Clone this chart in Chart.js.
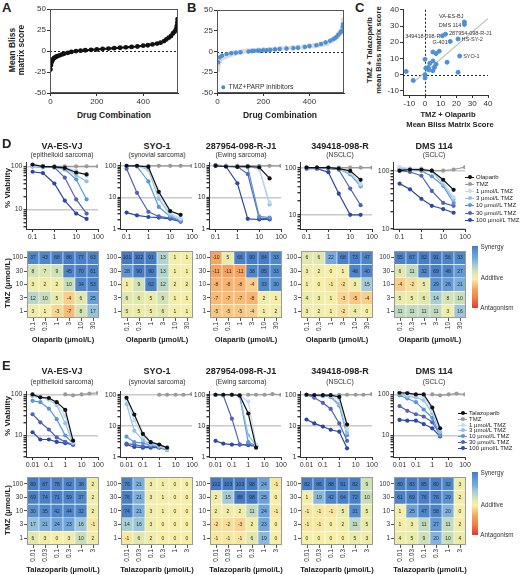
<!DOCTYPE html>
<html>
<head>
<meta charset="utf-8">
<script src="https://cdn.jsdelivr.net/npm/chart.js@4.4.1/dist/chart.umd.min.js"></script>
<style>
  body { margin: 0; background: #fff; }
  #fig { position: relative; width: 520px; height: 575px; overflow: hidden;
         font-family: "Liberation Sans", Arial, Helvetica, sans-serif; color: #222; }
  #fig canvas { position: absolute; }
  .t { position: absolute; white-space: nowrap; line-height: 1; }
  .letter { font-weight: bold; font-size: 13px; }
  .lg { position: absolute; font-size: 6px; white-space: nowrap; line-height: 1; }
  .lg i { position: absolute; height: 0; border-top: 1px solid; width: 9px; top: 0; }
  .lg b { position: absolute; width: 4px; height: 4px; border-radius: 50%; top: -2px; }
</style>
</head>
<body>
<div id="fig"></div>
<script>
/* ---------- data ---------- */

// A: every drug combination, ranked (rank, mean Bliss matrix score)
const aRank  = [0, 2, 4, 6, 8, 10, 15, 20, 25, 30, 40, 50, 60, 75, 90, 110, 130, 150, 175, 200, 225, 250, 275, 300,
                325, 350, 375, 400, 420, 440, 460, 475, 490, 500, 510, 520, 528, 535, 540, 543, 545, 547, 548];
const aScore = [-22, -17, -14, -12, -11, -10, -8.5, -7.5, -6.5, -6, -5, -4, -3, -2, -1, 0, 0.5, 1, 1.5, 2, 2.5, 3, 3.5, 4,
                4.5, 5, 5.5, 6.5, 7, 8, 9, 10, 12, 14, 16, 18, 21, 23, 25, 27, 30, 34, 38];

// B: TMZ + PARP inhibitor combinations within the ranking
const bRank  = [3, 10, 20, 40, 60, 80, 100, 135, 150, 160, 175, 185, 200, 215, 230, 250, 270, 300, 330, 350,
                380, 400, 430, 450, 470, 490, 505, 515, 525, 535, 540, 545, 547];
const bScore = [-13, -7, -5, -3, -2, -1.5, -1, 0, 0.5, 0.8, 1, 1, 1.5, 1.5, 2, 2.5, 3, 3.5, 4, 4.5,
                5.5, 6.5, 7.5, 9, 11, 13, 15, 17, 20, 23, 25, 30, 33];

// C: mean Bliss score per cell line, TMZ+olaparib (x) vs TMZ+talazoparib (y)
const cOlaparib    = [-12, -7.5, 0, 0.5, 0, 0, 2, 2.5, 3, 5, 7, 9, 5, 6, 7, 5, 14, 11, 13, 16, 21, 21, 22, 25, 25];
const cTalazoparib = [2, -3.5, 9.5, 4, 0, -2, 4.5, 3, 7, 14, 13, 14.5, 8.5, 4.5, 6.5, 2.5, 7.7, 24, 25, 20.5, 22, 1.5, 11.5, 32.5, 31];
const cLabels = ['', '', '', '', '', '', '', '', '', '', '', '', '', '', '', '', '',
                 '349418-098-R', '287954-098-R-J1', 'G-401', 'HS-SY-2', '', 'SYO-1', 'VA-ES-BJ', 'DMS 114'];
const cFit = { slope: 0.83, intercept: 1.4, from: -7.5, to: 40 };

// D / E: cell lines and doses
const cellLines = ['VA-ES-VJ', 'SYO-1', '287954-098-R-J1', '349418-098-R', 'DMS 114'];
const subtypes  = ['(epithelioid sarcoma)', '(synovial sarcoma)', '(Ewing sarcoma)', '(NSCLC)', '(SCLC)'];
const olaparibDoses    = [0.1, 0.3, 1, 3, 10, 30];
const talazoparibDoses = [0.01, 0.03, 0.1, 0.3, 1, 3];
const olaparibLabels    = ['0.1', '0.3', '1', '3', '10', '30'];
const talazoparibLabels = ['0.01', '0.03', '0.1', '0.3', '1', '3'];
const tmzDoses = [1, 3, 10, 30, 100];
const tmzRows  = ['100', '30', '10', '3', '1'];
const comboNames = ['1 µmol/L TMZ', '3 µmol/L TMZ', '10 µmol/L TMZ', '30 µmol/L TMZ', '100 µmol/L TMZ'];

// % viability: row 0 = PARP inhibitor alone, rows 1-5 = + 1, 3, 10, 30, 100 µmol/L TMZ
const olaViabVAESVJ = [[110, 100, 97, 92, 72, 65], [105, 100, 100, 95, 80, 60], [100, 100, 95, 90, 62, 45],
                       [100, 95, 95, 85, 50, 17], [100, 100, 95, 55, 17, 8], [75, 70, 40, 16, 8, 6]];
const olaViabSYO1   = [[100, 100, 92, 15, 3.7, 2.8], [100, 100, 88, 12, 3.2, 2.2], [100, 100, 75, 9, 2.8, 2],
                       [95, 95, 32, 5, 2.5, 1.8], [80, 14, 3.5, 2.5, 2.2, 1.8], [3.3, 2.7, 2.4, 2.3, 2.1, 1.7]];
const olaViab287954 = [[100, 95, 92, 95, 90, 40], [100, 100, 100, 95, 85, 7], [100, 100, 100, 95, 80, 6],
                       [100, 100, 100, 90, 2.5, 2.3], [105, 100, 95, 55, 2.2, 2.1], [100, 95, 28, 2.1, 2, 2]];
const olaViab349418 = [[100, 100, 100, 95, 85, 55], [100, 100, 100, 95, 80, 45], [100, 100, 98, 93, 75, 42],
                       [100, 100, 97, 92, 72, 40], [100, 100, 95, 90, 36, 16], [95, 95, 80, 28, 10, 10]];
const olaViabDMS114 = [[100, 105, 105, 100, 70, 47], [115, 110, 110, 100, 65, 35], [110, 108, 105, 98, 58, 32],
                       [105, 105, 100, 80, 55, 28], [100, 95, 82, 45, 28, 25], [60, 48, 33, 25, 22, 19]];
const talViabVAESVJ = [[100, 85, 82, 65, 42, 7.5], [95, 88, 80, 60, 30, 7], [90, 85, 75, 55, 20, 6.5],
                       [70, 65, 45, 25, 10, 6.5], [33, 21, 14, 9, 7, 6], [12, 8, 8, 7, 6.5, 6]];
const talViabSYO1   = [[80, 23, 5.5, 3, 2.5, 2], [70, 15, 4.5, 3, 2.4, 1.8], [50, 7, 3.5, 2.6, 2.2, 1.7],
                       [4.5, 3, 2.8, 2.4, 2.1, 1.7], [2.7, 2.5, 2.2, 2.2, 2.1, 1.8], [2.5, 2.1, 2, 2, 2, 1.7]];
const talViab287954 = [[100, 100, 100, 95, 25, 2], [100, 100, 100, 95, 60, 2.5], [100, 100, 100, 95, 5, 2.4],
                       [100, 100, 100, 90, 3, 2.3], [100, 95, 17, 2.5, 2.5, 2.3], [3.3, 2.7, 2.5, 2.5, 2.4, 2.2]];
const talViab349418 = [[100, 97, 97, 97, 85, 11], [100, 100, 95, 95, 70, 8], [100, 95, 95, 90, 50, 6],
                       [100, 95, 90, 85, 45, 5], [100, 80, 55, 35, 12, 3.3], [16, 12, 9.5, 7.5, 6.5, 1.9]];
const talViabDMS114 = [[110, 108, 100, 100, 48, 15], [110, 100, 95, 88, 40, 14], [105, 90, 85, 72, 35, 12],
                       [95, 80, 65, 43, 27, 10], [52, 40, 33, 29, 21, 10.5], [24, 23, 23, 19, 15, 9.5]];

// TMZ alone (% viability at 1, 3, 10, 30, 100 µmol/L)
const olaTmzAlone = [[100, 100, 100, 100, 100], [100, 100, 100, 100, 100], [100, 100, 100, 100, 100],
                     [100, 100, 100, 100, 100], [100, 100, 100, 105, 115]];
const talTmzAlone = [[100, 95, 100, 105, 110], [100, 100, 100, 100, 105], [100, 100, 100, 105, 100],
                     [100, 100, 100, 100, 105], [100, 95, 100, 105, 100]];

// Bliss synergy matrices, rows TMZ 100, 30, 10, 3, 1 µmol/L
const olaBlissVAESVJ = [[37, 43, 68, 86, 77, 63], [8, 7, 9, 45, 70, 61], [3, 2, 2, 10, 34, 53], [12, 10, 5, -4, 6, 25], [3, 1, -3, -7, 8, 17]];
const olaBlissSYO1   = [[101, 102, 91, 13, 1, 1], [28, 90, 90, 13, 1, 1], [1, 9, 62, 12, 2, 2], [6, 6, 5, 9, 1, 1], [5, 5, 5, 6, 1, 1]];
const olaBliss287954 = [[-10, 5, 66, 90, 84, 33], [-11, -11, -11, 38, 85, 33], [-8, -8, -8, -4, 33, 30], [-7, -7, -7, -8, 2, 1], [-5, -5, -5, -4, 1, 2]];
const olaBliss349418 = [[6, 6, 22, 68, 73, 47], [3, 2, 0, 1, 48, 40], [1, 0, -1, -2, 3, 15], [4, 3, 1, -3, -5, -4], [3, 2, 1, -2, 4, 0]];
const olaBlissDMS114 = [[55, 67, 82, 91, 56, 33], [6, 11, 32, 69, 48, 27], [-4, -2, 5, 29, 26, 21], [5, 5, 6, 14, 8, 10], [11, 11, 11, 11, 3, 16]];
const talBlissVAESVJ = [[89, 87, 78, 62, 38, 2], [69, 74, 71, 59, 37, 2], [30, 35, 42, 44, 32, 2], [17, 21, 24, 23, 16, -1], [6, 3, 0, 3, 10, 2]];
const talBlissSYO1   = [[76, 21, 3, 1, 0, 0], [76, 21, 3, 1, 0, 0], [74, 21, 3, 1, 0, 0], [14, 16, 3, 0, 0, 0], [-1, 6, 2, 0, 0, 0]];
const talBliss287954 = [[102, 103, 103, 98, 24, -1], [2, 15, 88, 98, 25, 0], [2, 2, 2, 11, 24, -1], [-2, -2, -3, 2, 23, 0], [-1, -1, -1, 6, 19, 0]];
const talBliss349418 = [[82, 86, 88, 91, 82, 9], [1, 19, 42, 64, 72, 10], [-1, -1, -1, 5, 31, 5], [-1, -1, 0, 2, 11, 5], [0, 0, 0, 0, 5, 3]];
const talBlissDMS114 = [[80, 83, 85, 80, 32, 3], [61, 69, 76, 76, 29, 2], [1, 25, 47, 58, 20, 0], [1, 3, 11, 27, 11, 2], [4, 5, 9, 20, 10, 4]];

const olaViab  = [olaViabVAESVJ, olaViabSYO1, olaViab287954, olaViab349418, olaViabDMS114];
const talViab  = [talViabVAESVJ, talViabSYO1, talViab287954, talViab349418, talViabDMS114];
const olaBliss = [olaBlissVAESVJ, olaBlissSYO1, olaBliss287954, olaBliss349418, olaBlissDMS114];
const talBliss = [talBlissVAESVJ, talBlissSYO1, talBliss287954, talBliss349418, talBlissDMS114];

/* ---------- style / layout ---------- */
const FONT = '"Liberation Sans", Arial, Helvetica, sans-serif';
const BLUE = '#4b8fd6';
const comboColors = ['#c3dbf1', '#94bfe8', '#5597d8', '#5262b5', '#2c48a6'];
const lineLefts = [26, 120, 209, 300, 393];
const titleCenters = [62, 157, 241, 340, 434];
const olaYRange = [[3.5, 125], [1, 130], [1, 130], [5, 130], [10, 140]];
const talYRange = [[3, 120], [1, 130], [1, 130], [1, 130], [3, 120]];
const cLabelPos = {
  'VA-ES-BJ': [-1, -5.5, 'right'], 'DMS 114': [-3, 1.5, 'right'], '349418-098-R': [-2, 0.5, 'right'],
  '287954-098-R-J1': [3.5, -0.5, 'left'], 'G-401': [-2.5, 1, 'right'], 'HS-SY-2': [3.5, 0.5, 'left'], 'SYO-1': [3.5, 0, 'left']
};
// colour scale for Bliss scores (antagonism -> additive -> synergy)
const blissStops = [[-30, [226, 59, 46]], [-20, [239, 125, 69]], [-10, [246, 166, 98]], [-4, [249, 206, 136]],
                    [0, [247, 239, 168]], [5, [233, 235, 170]], [10, [200, 222, 186]], [15, [163, 203, 216]],
                    [22, [118, 170, 221]], [32, [80, 136, 204]], [100, [68, 122, 196]]];

Chart.defaults.font.family = FONT;
Chart.defaults.color = '#333';
Chart.defaults.animation = false;
Chart.defaults.events = [];
Chart.defaults.plugins.legend.display = false;
Chart.defaults.plugins.tooltip.enabled = false;

const fig = document.getElementById('fig');

function blissColor(v) {
  const s = blissStops;
  if (v <= s[0][0]) return 'rgb(' + s[0][1].join(',') + ')';
  for (let i = 1; i < s.length; i++) {
    if (v <= s[i][0]) {
      const t = (v - s[i - 1][0]) / (s[i][0] - s[i - 1][0]);
      const c = s[i - 1][1].map((a, k) => Math.round(a + (s[i][1][k] - a) * t));
      return 'rgb(' + c.join(',') + ')';
    }
  }
  return 'rgb(' + s[s.length - 1][1].join(',') + ')';
}

function text(str, x, y, css, rot) {
  const d = document.createElement('div');
  d.className = 't';
  d.textContent = str;
  d.style.left = x + 'px';
  d.style.top = y + 'px';
  d.style.transform = 'translate(-50%,-50%)' + (rot ? ' rotate(' + rot + 'deg)' : '');
  if (css) d.style.cssText += css;
  fig.appendChild(d);
  return d;
}

function letter(str, x, y) {
  const d = document.createElement('div');
  d.className = 't letter';
  d.textContent = str;
  d.style.left = x + 'px';
  d.style.top = y + 'px';
  fig.appendChild(d);
}

// plot box in page pixels + room around it for axes
function place(box, pad, config) {
  const canvas = document.createElement('canvas');
  const w = box.w + pad.l + pad.r, h = box.h + pad.t + pad.b;
  canvas.width = w;
  canvas.height = h;
  canvas.style.left = (box.x - pad.l) + 'px';
  canvas.style.top = (box.y - pad.t) + 'px';
  canvas.style.width = w + 'px';
  canvas.style.height = h + 'px';
  fig.appendChild(canvas);
  const o = config.options;
  o.responsive = false;
  o.maintainAspectRatio = false;
  o.devicePixelRatio = 1;
  o.layout = { padding: { top: pad.t, right: pad.r, left: 0, bottom: 0 } };
  o.scales.x.afterFit = s => { s.height = pad.b; };
  o.scales.y.afterFit = s => { s.width = pad.l; };
  return new Chart(canvas, config);
}

const fixedTicks = vals => s => { s.ticks = vals.map(v => ({ value: v })); };

/* ---------- plugins ---------- */
const refLines = {
  id: 'refLines',
  beforeDatasetsDraw(chart, args, opts) {
    const { ctx, chartArea: a, scales: { x, y } } = chart;
    ctx.save();
    ctx.strokeStyle = opts.color || '#222';
    ctx.lineWidth = opts.width || 1;
    ctx.setLineDash(opts.dash || []);
    (opts.y || []).forEach(v => {
      const p = Math.round(y.getPixelForValue(v)) + 0.5;
      ctx.beginPath(); ctx.moveTo(a.left, p); ctx.lineTo(a.right, p); ctx.stroke();
    });
    (opts.x || []).forEach(v => {
      const p = Math.round(x.getPixelForValue(v)) + 0.5;
      ctx.beginPath(); ctx.moveTo(p, a.top); ctx.lineTo(p, a.bottom); ctx.stroke();
    });
    if (opts.fit) {
      const f = opts.fit;
      ctx.setLineDash([]);
      ctx.strokeStyle = '#c4c4c4';
      ctx.lineWidth = 1.2;
      ctx.beginPath();
      ctx.moveTo(x.getPixelForValue(f.from), y.getPixelForValue(f.slope * f.from + f.intercept));
      ctx.lineTo(x.getPixelForValue(f.to), y.getPixelForValue(f.slope * f.to + f.intercept));
      ctx.stroke();
    }
    ctx.restore();
  }
};

const frame = {
  id: 'frame',
  afterDatasetsDraw(chart, args, opts) {
    const { ctx, chartArea: a } = chart;
    ctx.save();
    ctx.strokeStyle = opts.color || '#555';
    ctx.lineWidth = 1;
    ctx.strokeRect(Math.round(a.left) + 0.5, Math.round(a.top) + 0.5, Math.round(a.width) - 1, Math.round(a.height) - 1);
    ctx.restore();
  }
};

const cellText = {
  id: 'cellText',
  afterDatasetsDraw(chart) {
    const ctx = chart.ctx;
    ctx.save();
    ctx.font = '5px ' + FONT;
    ctx.fillStyle = '#2b2b2b';
    ctx.textAlign = 'center';
    ctx.textBaseline = 'middle';
    chart.data.datasets.forEach((ds, di) => {
      chart.getDatasetMeta(di).data.forEach((el, i) => {
        ctx.fillText(String(ds.values[i]), el.x, (el.y + el.base) / 2 + 0.5);
      });
    });
    ctx.restore();
  }
};

const pointNames = {
  id: 'pointNames',
  afterDatasetsDraw(chart) {
    const ctx = chart.ctx;
    const meta = chart.getDatasetMeta(0);
    ctx.save();
    ctx.font = '5.5px ' + FONT;
    ctx.fillStyle = '#333';
    ctx.textBaseline = 'middle';
    cLabels.forEach((name, i) => {
      if (!name) return;
      const el = meta.data[i];
      const p = cLabelPos[name];
      ctx.textAlign = p[2];
      ctx.fillText(name, el.x + p[0], el.y + p[1]);
    });
    ctx.restore();
  }
};

function linAxis(min, max, ticks, size) {
  return {
    type: 'linear', min: min, max: max, afterBuildTicks: fixedTicks(ticks),
    border: { color: '#333', width: 1 },
    grid: { drawOnChartArea: false, tickLength: 3, tickColor: '#333' },
    ticks: { font: { size: size }, color: '#333', padding: 1, autoSkip: false, maxRotation: 0 }
  };
}

/* ---------- A ---------- */
letter('A', 2, 1);
place({ x: 50, y: 8, w: 128, h: 85 }, { l: 30, t: 5, r: 8, b: 14 }, {
  type: 'scatter',
  data: { datasets: [{ data: aRank.map((r, i) => ({ x: r, y: aScore[i] })), showLine: true,
    borderColor: '#111', backgroundColor: '#111', borderWidth: 2.2, pointRadius: 1.3 }] },
  options: {
    scales: { x: linAxis(-2, 550, [0, 200, 400], 8), y: linAxis(-50, 50, [-50, -25, 0, 25, 50], 8) },
    plugins: { refLines: { y: [0], dash: [2, 2] }, frame: { color: '#555' } }
  },
  plugins: [refLines, frame]
});
text('Mean Bliss', 12, 50, 'font-weight:bold;font-size:8.5px;', -90);
text('matrix score', 21, 50, 'font-weight:bold;font-size:8.5px;', -90);
text('Drug Combination', 114, 115, 'font-weight:bold;font-size:8.5px;');

/* ---------- B ---------- */
letter('B', 187, 1);
place({ x: 217, y: 8, w: 127, h: 85 }, { l: 20, t: 5, r: 8, b: 14 }, {
  type: 'scatter',
  data: { datasets: [
    { data: bRank.map((r, i) => ({ x: r, y: bScore[i] })), showLine: false,
      backgroundColor: BLUE, borderColor: BLUE, pointRadius: 1.8 },
    { data: aRank.map((r, i) => ({ x: r, y: aScore[i] })), showLine: true,
      borderColor: '#dadada', backgroundColor: '#dadada', borderWidth: 3, pointRadius: 1.3 }
  ] },
  options: {
    scales: { x: linAxis(-2, 550, [0, 200, 400], 8), y: linAxis(-50, 50, [-50, -25, 0, 25, 50], 8) },
    plugins: { refLines: { y: [0], dash: [2, 2] }, frame: { color: '#555' } }
  },
  plugins: [refLines, frame]
});
text('TMZ+PARP inhibitors', 261, 87, 'font-size:6.8px;color:#333;');
text('', 223, 87, 'width:3.5px;height:3.5px;border-radius:50%;background:' + BLUE + ';');
text('Drug Combination', 280, 115, 'font-weight:bold;font-size:8.5px;');

/* ---------- C ---------- */
letter('C', 355, 1);
place({ x: 403, y: 9, w: 85, h: 86 }, { l: 16, t: 5, r: 8, b: 14 }, {
  type: 'scatter',
  data: { datasets: [{ data: cOlaparib.map((v, i) => ({ x: v, y: cTalazoparib[i] })),
    backgroundColor: BLUE, borderColor: BLUE, pointRadius: 2 }] },
  options: {
    scales: { x: linAxis(-14, 40, [-10, 0, 10, 20, 30, 40], 8), y: linAxis(-12.5, 40, [-10, 0, 10, 20, 30, 40], 8) },
    plugins: { refLines: { x: [0], y: [0], dash: [2, 2], fit: cFit } }
  },
  plugins: [refLines, pointNames]
});
text('TMZ + Talazoparib', 370, 50, 'font-weight:bold;font-size:7.6px;', -90);
text('mean Bliss matrix score', 379, 50, 'font-weight:bold;font-size:7.6px;', -90);
text('TMZ + Olaparib', 448, 115, 'font-weight:bold;font-size:7.6px;');
text('Mean Bliss Matrix Score', 450, 125, 'font-weight:bold;font-size:7.6px;');

/* ---------- D / E dose-response and Bliss matrices ---------- */
function logTicks(min, max) {
  const out = [];
  for (let d = 1; d <= 100; d *= 10) {
    for (let m = 1; m < 10; m++) {
      const v = m * d;
      if (v >= min && v <= max) out.push(v);
    }
  }
  return out;
}

function series(doses, vals, color) {
  return { data: doses.map((d, i) => ({ x: d, y: vals[i] })), showLine: true,
    borderColor: color, backgroundColor: color, borderWidth: 1.2, pointRadius: 2.1, pointBorderWidth: 0 };
}

function viabilityChart(box, doses, viab, tmzAlone, yRange, xTicks, xMin) {
  const datasets = [series(doses, viab[0], '#111'), series(tmzDoses, tmzAlone, '#9a9a9a')];
  for (let k = 1; k < viab.length; k++) datasets.push(series(doses, viab[k], comboColors[k - 1]));
  const yt = logTicks(yRange[0], yRange[1]);
  place(box, { l: 19, t: 4, r: 8, b: 12 }, {
    type: 'scatter',
    data: { datasets: datasets },
    options: {
      scales: {
        x: { type: 'logarithmic', min: xMin, max: 100, afterBuildTicks: fixedTicks(xTicks),
          border: { color: '#333', width: 1 },
          grid: { drawOnChartArea: false, tickLength: 3, tickColor: '#333' },
          ticks: { font: { size: 7 }, color: '#333', padding: 1, autoSkip: false, maxRotation: 0,
            callback: v => String(v) } },
        y: { type: 'logarithmic', min: yRange[0], max: yRange[1], afterBuildTicks: fixedTicks(yt),
          border: { color: '#333', width: 1 },
          grid: { drawOnChartArea: true, tickLength: 2.5, tickColor: '#333', lineWidth: 1.4,
            color: c => (c.tick && (c.tick.value === 10 || c.tick.value === 100)) ? '#c9c9c9' : 'rgba(0,0,0,0)' },
          ticks: { font: { size: 7 }, color: '#333', padding: 1, autoSkip: false,
            callback: v => (v === 1 || v === 10 || v === 100) ? String(v) : '' } }
      }
    }
  });
}

function heatmap(box, bliss, labels) {
  const n = tmzRows.length;
  place(box, { l: 19, t: 2, r: 4, b: 18 }, {
    type: 'bar',
    data: { labels: labels, datasets: bliss.map((row, r) => ({
      data: row.map(() => [n - 1 - r, n - r]),
      values: row,
      backgroundColor: row.map(blissColor),
      borderColor: '#fff', borderWidth: 0.6, borderSkipped: false,
      barPercentage: 1, categoryPercentage: 1, grouped: false
    })) },
    options: {
      scales: {
        x: { type: 'category', offset: true, border: { display: false },
          grid: { drawOnChartArea: false, offset: false, tickLength: 3, tickColor: '#555' },
          ticks: { font: { size: 6.5 }, color: '#333', padding: 1, autoSkip: false, minRotation: 90, maxRotation: 90 } },
        y: { type: 'linear', min: 0, max: n, afterBuildTicks: fixedTicks([0.5, 1.5, 2.5, 3.5, 4.5]),
          border: { display: false },
          grid: { drawOnChartArea: false, tickLength: 3, tickColor: '#555' },
          ticks: { font: { size: 6.5 }, color: '#333', padding: 1, autoSkip: false,
            callback: v => tmzRows[n - 1 - Math.floor(v)] } }
      },
      plugins: { frame: { color: '#9a9a9a' } }
    },
    plugins: [cellText, frame]
  });
}

function legend(names, colors, x, y0, step) {
  names.forEach((name, i) => {
    const d = document.createElement('div');
    d.className = 'lg';
    d.style.left = (x + 6) + 'px';
    d.style.top = (y0 + i * step - 3) + 'px';
    d.textContent = name;
    const ln = document.createElement('i');
    ln.style.left = '-11px'; ln.style.top = '3px'; ln.style.borderColor = colors[i];
    const dot = document.createElement('b');
    dot.style.left = '-8.5px'; dot.style.top = '1px'; dot.style.background = colors[i];
    d.appendChild(ln); d.appendChild(dot);
    fig.appendChild(d);
  });
}

// gradient bar using the same colour scale: synergy at the top, antagonism at the bottom
function colorbar(x, top, bottom) {
  const hi = 35, lo = -30;
  const stops = blissStops.filter(s => s[0] <= hi).slice().reverse()
    .map(s => 'rgb(' + s[1].join(',') + ') ' + ((hi - s[0]) / (hi - lo) * 100).toFixed(1) + '%');
  const d = document.createElement('div');
  d.style.cssText = 'position:absolute;left:' + x + 'px;top:' + top + 'px;width:6px;height:' + (bottom - top) +
    'px;background:linear-gradient(to bottom,rgb(68,122,196) 0%,' + stops.join(',') + ');';
  fig.appendChild(d);
  text('Synergy', x + 20, top + 1, 'font-size:6.3px;color:#333;');
  text('Additive', x + 20, (top + bottom) / 2 + 1, 'font-size:6.3px;color:#333;');
  text('Antagonism', x + 25, bottom, 'font-size:6.3px;color:#333;');
}

function doseRow(opts) {
  letter(opts.letter, 2, opts.letterY);
  for (let i = 0; i < cellLines.length; i++) {
    text(cellLines[i], titleCenters[i], opts.titleY, 'font-weight:bold;font-size:9px;');
    text(subtypes[i], titleCenters[i], opts.subY, 'font-size:6.8px;color:#333;');
    viabilityChart({ x: lineLefts[i], y: opts.plotTop, w: 72, h: opts.plotH }, opts.doses, opts.viab[i],
      opts.tmz[i], opts.yRange[i], opts.xTicks, opts.xMin);
    heatmap({ x: lineLefts[i] + 1, y: opts.heatTop, w: 72, h: opts.heatH }, opts.bliss[i], opts.labels);
    text(opts.drug + ' (µmol/L)', lineLefts[i] + 37, opts.heatTitleY, 'font-weight:bold;font-size:7.6px;');
  }
  text('% Viability', 8, opts.viabY, 'font-weight:bold;font-size:8px;', -90);
  text('TMZ (µmol/L)', 8, opts.tmzY, 'font-weight:bold;font-size:8px;', -90);
  legend([opts.drug, 'TMZ'].concat(comboNames), ['#111', '#9a9a9a'].concat(comboColors), opts.lgX, opts.lgY, opts.lgStep);
  colorbar(472, opts.heatTop - 2, opts.heatTop + opts.heatH - 10);
}

doseRow({ letter: 'D', letterY: 137, titleY: 146, subY: 155, plotTop: 161, plotH: 68,
  doses: olaparibDoses, viab: olaViab, tmz: olaTmzAlone, yRange: olaYRange,
  xTicks: [0.1, 1, 10, 100], xMin: 0.05, heatTop: 248, heatH: 70, bliss: olaBliss, labels: olaparibLabels,
  drug: 'Olaparib', heatTitleY: 340, viabY: 188, tmzY: 283, lgX: 470, lgY: 177, lgStep: 7.1 });

doseRow({ letter: 'E', letterY: 359, titleY: 371, subY: 382, plotTop: 390, plotH: 67,
  doses: talazoparibDoses, viab: talViab, tmz: talTmzAlone, yRange: talYRange,
  xTicks: [0.01, 0.1, 1, 10, 100], xMin: 0.004, heatTop: 474, heatH: 71, bliss: talBliss, labels: talazoparibLabels,
  drug: 'Talazoparib', heatTitleY: 570, viabY: 416, tmzY: 510, lgX: 463, lgY: 413, lgStep: 5.8 });
</script>
</body>
</html>
